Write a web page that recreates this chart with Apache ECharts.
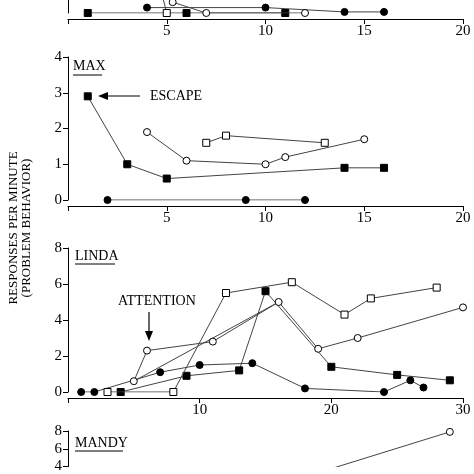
<!DOCTYPE html><html><head><meta charset="utf-8">
<script src="https://cdn.jsdelivr.net/npm/echarts@6/dist/echarts.min.js"></script>
<style>html,body{margin:0;padding:0;background:#fff}#c{width:474px;height:474px}</style></head><body><div id="c"></div>
<script>
// Panel 1 (top, clipped)
const p1FilledCircle=[[4,0.15],[10,0.15],[14,0.03],[16,0.03]];
const p1FilledSquare=[[1,0],[6,0],[11,0]];
const p1OpenSquare=[[4.3,1.5],[5,0]];
const p1OpenCircle=[[5.7,1.5],[5.3,0.3],[7,0],[12,0]];
// MAX
const maxFilledSquare=[[1,2.9],[3,1.0],[5,0.6],[14,0.9],[16,0.9]];
const maxOpenCircle=[[4,1.9],[6,1.1],[10,1.0],[11,1.2],[15,1.7]];
const maxOpenSquare=[[7,1.6],[8,1.8],[13,1.6]];
const maxFilledCircle=[[2,0],[9,0],[12,0]];
// LINDA
const lindaFilledCircle=[[1,0],[2,0],[7,1.1],[10,1.5],[14,1.6],[18,0.2],[24,0],[26,0.65],[27,0.25]];
const lindaOpenCircle=[[5,0.6],[6,2.3],[11,2.8],[16,5.0],[19,2.4],[22,3.0],[30,4.7]];
const lindaOpenCircle2=[[5,0.6],[16,5.0]];
const lindaFilledSquare=[[4,0],[9,0.9],[13,1.2],[15,5.6],[20,1.4],[25,0.95],[29,0.65]];
const lindaOpenSquare=[[3,0],[8,0],[12,5.5],[17,6.1],[21,4.3],[23,5.2],[28,5.8]];
// MANDY
const mandyOpenCircle=[[19,3.3],[29,7.9]];

const F='Liberation Serif';
const grids=[
 {left:68,top:0,width:395,height:13},
 {left:68,top:57,width:395,height:143},
 {left:68,top:248,width:395,height:144},
 {left:68,top:431,width:395,height:42}
];
const xMax=[20,20,30,30], xInt=[5,5,10,10], yMin=[0,0,0,4], yMax=[0.36,4,8,8], yInt=[1,1,2,2];
const ax={lineStyle:{color:'#000',width:1}};
const xAxis=grids.map((g,i)=>({gridIndex:i,type:'value',min:0,max:xMax[i],interval:xInt[i],offset:6,show:i<3,
 axisLine:{show:true,onZero:false,...ax},axisTick:{show:true,length:5,lineStyle:{color:'#000'}},
 axisLabel:{show:i<3,color:'#000',fontFamily:F,fontSize:15,margin:5,formatter:v=>v===0?'':v},splitLine:{show:false}}));
const yAxis=grids.map((g,i)=>({gridIndex:i,type:'value',min:yMin[i],max:yMax[i],interval:yInt[i],
 axisLine:{show:true,...ax},axisTick:{show:true,length:5,lineStyle:{color:'#000'}},
 axisLabel:{color:'#000',fontFamily:F,fontSize:15,margin:6,showMaxLabel:i!==0},splitLine:{show:false}}));
function s(data,i,sym,filled,lineOnly){
 return {type:'line',xAxisIndex:i,yAxisIndex:i,data,symbol:lineOnly?'none':sym,
  symbolSize:7,showSymbol:!lineOnly,clip:true,
  lineStyle:{color:'#444',width:1},
  itemStyle:{color:filled?'#000':'#fff',borderColor:'#000',borderWidth:1},z:filled?3:4,animation:false};
}
const series=[
 s(p1FilledCircle,0,'circle',true),s(p1FilledSquare,0,'rect',true),s(p1OpenSquare,0,'rect',false),s(p1OpenCircle,0,'circle',false),
 s(maxFilledSquare,1,'rect',true),s(maxOpenCircle,1,'circle',false),s(maxOpenSquare,1,'rect',false),s(maxFilledCircle,1,'circle',true),
 s(lindaFilledCircle,2,'circle',true),s(lindaOpenCircle,2,'circle',false),s(lindaOpenCircle2,2,'circle',false,true),
 s(lindaFilledSquare,2,'rect',true),s(lindaOpenSquare,2,'rect',false),
 s(mandyOpenCircle,3,'circle',false)
];
const T=(x,y,t,extra)=>({type:'text',left:x,top:y,style:{text:t,font:'14px '+F,fill:'#000',...(extra||{})}});
const graphic=[
 T(73,59,'MAX'),{type:'line',shape:{x1:73,y1:75,x2:102,y2:75},style:{stroke:'#000',lineWidth:1}},
 T(150,89,'ESCAPE'),
 {type:'line',shape:{x1:140,y1:96,x2:104,y2:96},style:{stroke:'#000',lineWidth:1.2}},
 {type:'polygon',shape:{points:[[98,96],[108,92],[108,100]]},style:{fill:'#000'}},
 T(75,249,'LINDA'),{type:'line',shape:{x1:75,y1:264,x2:115,y2:264},style:{stroke:'#000',lineWidth:1}},
 T(118,294,'ATTENTION'),
 {type:'line',shape:{x1:149,y1:312,x2:149,y2:334},style:{stroke:'#000',lineWidth:1.2}},
 {type:'polygon',shape:{points:[[149,341],[145,331],[153,331]]},style:{fill:'#000'}},
 T(75,436,'MANDY'),{type:'line',shape:{x1:75,y1:451,x2:123,y2:451},style:{stroke:'#000',lineWidth:1}},
 {type:'text',x:14,y:228,rotation:Math.PI/2,style:{text:'RESPONSES PER MINUTE',font:'13px '+F,fill:'#000',align:'center',verticalAlign:'middle'}},
 {type:'text',x:27,y:228,rotation:Math.PI/2,style:{text:'(PROBLEM BEHAVIOR)',font:'13px '+F,fill:'#000',align:'center',verticalAlign:'middle'}}
];
const ch=echarts.init(document.getElementById('c'));
ch.setOption({animation:false,backgroundColor:'#fff',grid:grids,xAxis,yAxis,series,graphic});
</script></body></html>
